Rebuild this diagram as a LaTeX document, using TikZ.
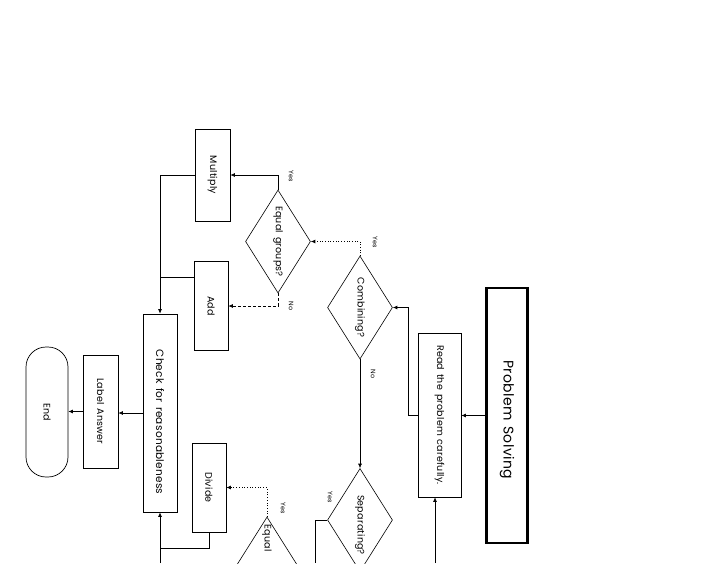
\documentclass[tikz,border=0pt]{standalone}
\usepackage{fontspec}
\setmainfont{Poppins}[LetterSpace=2.5,WordSpace=1.4]
\usepackage{graphicx}
\usetikzlibrary{shapes.geometric,arrows.meta,calc}
\begin{document}
\begin{tikzpicture}[x=1pt,y=-1pt,
  box/.style={draw,line width=0.7pt,inner sep=0pt,font=\fontsize{9.5}{11}\selectfont},
  dec/.style={draw,diamond,aspect=0.63,line width=0.6pt,inner sep=0pt,minimum width=65pt,minimum height=103pt,font=\fontsize{9.5}{11}\selectfont},
  lbl/.style={inner sep=0pt,font=\fontsize{6.5}{7}\selectfont},
  arr/.style={line width=0.7pt,-{Latex[length=4.5pt,width=4pt]}},
  con/.style={line width=0.7pt}]
\clip (0,0) rectangle (728,563);
\fill[white] (0,0) rectangle (728,563);
% nodes
\node[box,line width=2.2pt,minimum width=41pt,minimum height=255pt,font=\fontsize{14}{16}\selectfont] (ps) at (507,415.5) {\rotatebox{-90}{\hspace*{8pt}Problem Solving}};
\node[box,minimum width=43pt,minimum height=164pt] (read) at (439.5,415) {\rotatebox{-90}{Read the problem carefully.}};
\node[dec] (comb) at (360,307.5) {\rotatebox{-90}{Combining?}};
\node[dec] (eq1) at (278,241.5) {\rotatebox{-90}{Equal groups?}};
\node[box,minimum width=35pt,minimum height=92pt] (mult) at (212.5,175) {\rotatebox{-90}{Multiply}};
\node[box,minimum width=34pt,minimum height=89pt] (add) at (211,306) {\rotatebox{-90}{Add}};
\node[box,minimum width=34pt,minimum height=198pt,font=\fontsize{10.5}{12}\selectfont] (check) at (160,413) {\rotatebox{-90}{\hspace*{18pt}Check for reasonableness}};
\node[box,minimum width=35pt,minimum height=113pt] (label) at (100.5,411.5) {\rotatebox{-90}{Label Answer}};
\node[box,rounded corners=20pt,minimum width=42pt,minimum height=130pt] (endn) at (47,412) {\rotatebox{-90}{End}};
\node[box,minimum width=34pt,minimum height=89pt] (div) at (209,487.5) {\rotatebox{-90}{Divide}};
\node[dec] (eq2) at (267,568.5) {};
\node[inner sep=0pt,font=\fontsize{9.5}{11}\selectfont] (eq2t) at (267,538) {\rotatebox{-90}{Equal}};
\node[dec] (sep) at (360,520) {\rotatebox{-90}{\hspace*{10pt}Separating?}};
% labels
\node[lbl] (y1) at (291,176) {\rotatebox{-90}{Yes}};
\node[lbl] (n1) at (291,306) {\rotatebox{-90}{No}};
\node[lbl] (y2) at (375,242) {\rotatebox{-90}{Yes}};
\node[lbl] (n2) at (373,374) {\rotatebox{-90}{No}};
\node[lbl] (y3) at (283,508) {\rotatebox{-90}{Yes}};
\node[lbl] (y4) at (330,497) {\rotatebox{-90}{Yes}};
% free ends
\coordinate (b1) at (160,563);
\coordinate (j2) at (160,548);
\coordinate (b2) at (315,563);
\coordinate (b3) at (435,563);
% connectors
\draw[arr] (ps.west) -- (ps.west -| read.east);
\draw[arr] (read.west) -- ++(-9,0) |- (comb.east);
\draw[arr,dotted] (comb.north) |- (eq1.east);
\draw[arr] (eq1.north) |- (mult.east);
\draw[arr,densely dashed] (eq1.south) |- (add.east);
\draw[arr] (mult.west) -| (check.north);
\draw[con] ($(add.west)+(0,-29)$) -- ($(add.west -| check.north)+(0,-29)$);
\draw[arr] (check.west) -- (check.west -| label.east);
\draw[arr] (label.west) -- (label.west -| endn.east);
\draw[arr,dotted] (eq2.north) |- (div.east);
\draw[con] (div.south) |- (j2);
\draw[arr] (b1) -- (check.south);
\draw[arr] (comb.south) -- (sep.north);
\draw[con] (sep.west) -| (b2);
\draw[arr] (b3) -- (b3 |- read.south);
\end{tikzpicture}
\end{document}
